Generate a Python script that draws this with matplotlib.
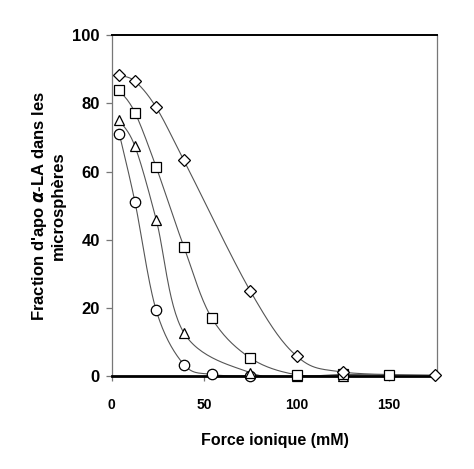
import matplotlib
matplotlib.use('Agg')
import matplotlib.pyplot as plt
import numpy as np

# data (ionic strength in mM, fraction in %)
x_circle = [4, 12.5, 24, 39, 54, 75]
y_circle = [71.1, 51.1, 19.3, 3.4, 0.5, 0.0]

x_triangle = [4, 12.5, 24, 39, 75, 100, 125]
y_triangle = [75.0, 67.4, 45.9, 12.7, 1.0, 0.0, 0.0]

x_square = [4, 12.5, 24, 39, 54, 75, 100, 125, 150]
y_square = [83.9, 77.3, 61.3, 37.9, 17.1, 5.3, 0.4, 0.5, 0.3]

x_diamond = [4, 12.5, 24, 39, 75, 100, 125, 175]
y_diamond = [88.2, 86.5, 78.8, 63.3, 24.9, 5.9, 1.2, 0.3]

xticks = [0, 50, 100, 150]
yticks = [0, 20, 40, 60, 80, 100]


def smooth(xs, ys, sx=1.84, sy=3.41, n=30):
	# excel-like smoothed line (bezier with 1/6 tangents), done in pixel-ish space
	p = np.column_stack([np.array(xs)*sx, np.array(ys)*sy])
	out = []
	for i in range(len(p)-1):
		p0 = p[i-1] if i > 0 else p[i]
		p3 = p[i+2] if i+2 < len(p) else p[i+1]
		c1 = p[i] + (p[i+1]-p0)/6.
		c2 = p[i+1] - (p3-p[i])/6.
		t = np.linspace(0, 1, n)[:, None]
		seg = (1-t)**3*p[i] + 3*(1-t)**2*t*c1 + 3*(1-t)*t**2*c2 + t**3*p[i+1]
		out.append(seg)
	out = np.vstack(out)
	return out[:, 0]/sx, out[:, 1]/sy


plt.rcParams['font.family'] = ['Liberation Sans', 'DejaVu Sans']
plt.rcParams['font.weight'] = 'bold'

fig = plt.figure(figsize=(4.74, 4.69), dpi=100)
ax = fig.add_axes([0.236, 0.198, 0.686, 0.727])

series = [(x_circle, y_circle, 'o', 7.5),
	(x_triangle, y_triangle, '^', 7.5),
	(x_square, y_square, 's', 7.5),
	(x_diamond, y_diamond, 'D', 6.3)]

for xs, ys, m, ms in series:
	cx, cy = smooth(xs, ys)
	ax.plot(cx, np.clip(cy, 0, None), color='#555555', linewidth=0.8, zorder=2)
	ax.plot(xs, ys, linestyle='none', marker=m, markersize=ms, markerfacecolor='white',
		markeredgecolor='black', markeredgewidth=0.9, clip_on=False, zorder=4)

ax.set_xlim(0, 176)
ax.set_ylim(0, 100)
ax.set_xticks(xticks)
ax.set_yticks(yticks)

ax.spines['left'].set_color('#777777')
ax.spines['right'].set_color('#777777')
ax.spines['left'].set_linewidth(0.9)
ax.spines['right'].set_linewidth(0.9)
ax.spines['top'].set_color('black')
ax.spines['top'].set_linewidth(1.4)
ax.spines['bottom'].set_color('black')
ax.spines['bottom'].set_linewidth(2.0)
ax.spines['bottom'].set_zorder(3)

ax.tick_params(axis='y', direction='out', length=4.3, width=0.9, color='#777777',
	pad=4.3, labelsize=12)
ax.tick_params(axis='x', direction='out', length=3.6, width=0.9, color='#777777',
	pad=12, labelsize=10)
for lab in ax.get_xticklabels() + ax.get_yticklabels():
	lab.set_fontweight('bold')

ax.set_xlabel('Force ionique (mM)', fontsize=11.5, fontweight='bold', labelpad=15)
ax.set_ylabel("Fraction d'apo $\\alpha$-LA dans les\nmicrosphères", fontsize=12,
	fontweight='bold', labelpad=5, linespacing=1.15)

plt.savefig('out.png', dpi=100)
